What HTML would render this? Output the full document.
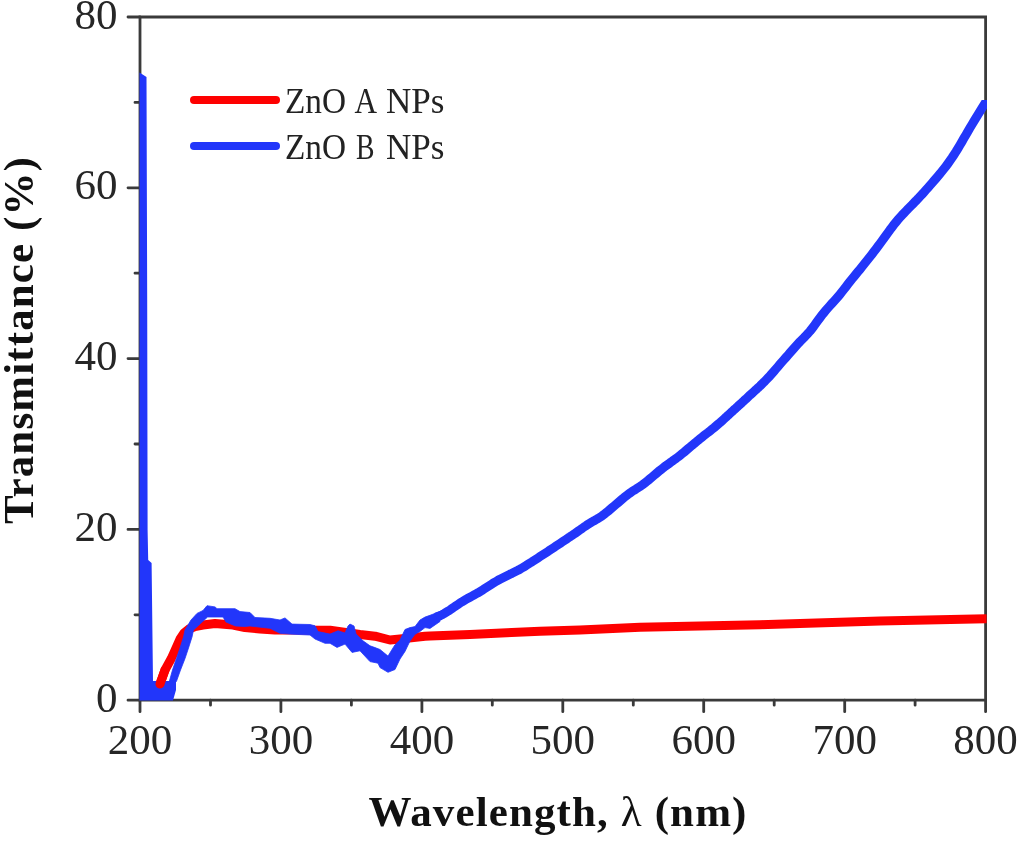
<!DOCTYPE html>
<html><head><meta charset="utf-8"><style>
html,body{margin:0;padding:0;background:#fff;}
svg{display:block;filter:blur(0.45px);}
</style></head><body>
<svg width="1020" height="841" viewBox="0 0 1020 841">
<defs><clipPath id="pa"><rect x="0" y="0" width="986.6" height="701"/></clipPath><clipPath id="pb"><rect x="400" y="100" width="587" height="601"/></clipPath></defs>
<path d="M140.0,17.0 H985.6 V700.2 H140.0 Z" fill="none" stroke="#3a3a3a" stroke-width="2.8"/>
<path d="M140.0,700.2 V711.7 M210.5,700.2 V705.2 M280.9,700.2 V711.7 M351.4,700.2 V705.2 M421.9,700.2 V711.7 M492.3,700.2 V705.2 M562.8,700.2 V711.7 M633.3,700.2 V705.2 M703.7,700.2 V711.7 M774.2,700.2 V705.2 M844.7,700.2 V711.7 M915.1,700.2 V705.2 M985.6,700.2 V711.7 M140.0,700.2 H128.0 M140.0,614.8 H135.0 M140.0,529.4 H128.0 M140.0,444.0 H135.0 M140.0,358.6 H128.0 M140.0,273.2 H135.0 M140.0,187.8 H128.0 M140.0,102.4 H135.0 M140.0,17.0 H128.0" fill="none" stroke="#3a3a3a" stroke-width="2.8" stroke-linecap="round"/>
<polyline points="160.0,684.0 165.0,670.0 171.3,658.5 176.0,648.0 180.0,639.0 184.0,633.0 189.0,629.0 195.0,626.5 203.0,625.0 215.0,623.5 221.0,624.0 233.0,625.0 245.0,627.5 260.0,629.0 275.0,630.0 290.0,630.0 320.0,630.3 330.0,630.3 360.0,634.5 375.0,636.2 390.0,640.0 400.0,639.0 425.0,636.2 430.0,635.9 470.0,634.4 540.0,631.2 580.0,630.0 640.0,627.3 760.0,624.7 880.0,621.0 986.0,618.8" fill="none" stroke="#fe0000" stroke-width="9" stroke-linejoin="round" stroke-linecap="round" clip-path="url(#pa)"/>
<polygon points="139.5,72.5 146.5,77.0 147.2,300.0 147.6,530.0 148.2,560.0 151.6,563.0 153.0,681.0 176.0,681.0 176.0,690.0 173.0,700.5 139.5,700.5" fill="#2236fa"/>
<polygon points="169.3,681.5 172.5,670.0 176.4,658.5 180.0,648.0 183.5,637.0 185.0,630.0 191.0,620.0 197.0,613.4 203.0,610.5 207.0,605.7 215.0,606.9 217.0,608.7 235.0,608.7 240.0,611.6 250.0,612.5 255.0,617.5 270.0,618.3 280.0,620.0 285.0,617.9 292.0,624.1 310.0,624.5 315.0,625.8 318.0,631.6 330.0,634.1 338.0,630.8 345.0,633.0 348.0,626.0 350.0,624.1 354.0,626.0 356.0,634.0 363.0,640.8 370.0,645.8 375.0,647.6 380.0,649.5 388.0,656.1 395.0,644.7 400.0,640.0 405.0,629.5 410.0,627.6 415.0,626.6 420.0,620.0 425.0,617.1 430.0,615.3 440.0,611.5 440.0,621.5 430.0,628.4 425.0,627.6 420.0,631.4 415.0,634.3 410.0,641.0 405.0,651.4 400.0,659.0 395.0,669.5 388.0,672.3 380.0,667.6 378.0,663.2 370.0,661.6 360.0,650.8 352.0,652.4 345.0,644.1 337.0,647.4 330.0,643.3 325.0,643.3 315.0,639.0 310.0,635.0 290.0,634.1 280.0,633.3 270.0,628.3 250.0,626.0 245.0,626.5 235.5,626.0 226.0,622.0 223.0,617.0 207.6,617.0 200.0,624.0 193.5,630.0 192.0,637.0 188.5,648.0 185.0,658.5 180.5,670.0 176.4,681.5" fill="#2236fa" stroke="#2236fa" stroke-width="0.8" stroke-linejoin="round"/>
<polyline points="436.0,617.3 438.0,616.5 440.0,615.7 442.0,614.7 444.0,613.6 446.0,612.4 448.0,611.2 450.0,609.9 452.0,608.5 454.0,607.1 456.0,605.7 458.0,604.4 460.0,603.1 462.0,601.8 464.0,600.6 466.0,599.4 468.0,598.3 470.0,597.2 472.0,596.1 474.0,595.0 476.0,593.9 478.0,592.8 480.0,591.6 482.0,590.4 484.0,589.1 486.0,587.8 488.0,586.5 490.0,585.2 492.0,583.9 494.0,582.7 496.0,581.5 498.0,580.3 500.0,579.2 502.0,578.2 504.0,577.2 506.0,576.2 508.0,575.2 510.0,574.2 512.0,573.3 514.0,572.3 516.0,571.3 518.0,570.3 520.0,569.2 522.0,568.0 524.0,566.8 526.0,565.6 528.0,564.3 530.0,563.0 532.0,561.8 534.0,560.5 536.0,559.2 538.0,557.9 540.0,556.6 542.0,555.3 544.0,554.0 546.0,552.7 548.0,551.4 550.0,550.0 552.0,548.7 554.0,547.4 556.0,546.1 558.0,544.8 560.0,543.5 562.0,542.1 564.0,540.8 566.0,539.5 568.0,538.1 570.0,536.8 572.0,535.4 574.0,534.1 576.0,532.7 578.0,531.3 580.0,529.9 582.0,528.5 584.0,527.0 586.0,525.7 588.0,524.3 590.0,523.1 592.0,521.9 594.0,520.8 596.0,519.6 598.0,518.5 600.0,517.2 602.0,515.9 604.0,514.4 606.0,512.8 608.0,511.2 610.0,509.5 612.0,507.8 614.0,506.1 616.0,504.4 618.0,502.7 620.0,501.0 622.0,499.3 624.0,497.6 626.0,496.0 628.0,494.4 630.0,493.0 632.0,491.6 634.0,490.3 636.0,489.1 638.0,487.8 640.0,486.5 642.0,485.1 644.0,483.6 646.0,482.1 648.0,480.5 650.0,478.8 652.0,477.1 654.0,475.4 656.0,473.7 658.0,472.0 660.0,470.3 662.0,468.8 664.0,467.2 666.0,465.7 668.0,464.3 670.0,462.8 672.0,461.4 674.0,459.9 676.0,458.5 678.0,457.0 680.0,455.4 682.0,453.8 684.0,452.2 686.0,450.5 688.0,448.8 690.0,447.1 692.0,445.4 694.0,443.8 696.0,442.1 698.0,440.4 700.0,438.8 702.0,437.2 704.0,435.6 706.0,434.0 708.0,432.5 710.0,430.9 712.0,429.3 714.0,427.7 716.0,426.0 718.0,424.3 720.0,422.6 722.0,420.8 724.0,419.0 726.0,417.2 728.0,415.3 730.0,413.5 732.0,411.7 734.0,409.8 736.0,408.1 738.0,406.2 740.0,404.4 742.0,402.6 744.0,400.7 746.0,398.9 748.0,397.0 750.0,395.1 752.0,393.3 754.0,391.5 756.0,389.7 758.0,387.8 760.0,386.0 762.0,384.0 764.0,382.1 766.0,380.0 768.0,377.9 770.0,375.8 772.0,373.5 774.0,371.2 776.0,368.9 778.0,366.6 780.0,364.2 782.0,361.9 784.0,359.6 786.0,357.4 788.0,355.1 790.0,352.8 792.0,350.5 794.0,348.2 796.0,346.0 798.0,343.8 800.0,341.6 802.0,339.6 804.0,337.6 806.0,335.5 808.0,333.4 810.0,331.1 812.0,328.6 814.0,326.0 816.0,323.2 818.0,320.4 820.0,317.7 822.0,315.1 824.0,312.6 826.0,310.2 828.0,307.9 830.0,305.6 832.0,303.4 834.0,301.2 836.0,299.0 838.0,296.7 840.0,294.3 842.0,291.8 844.0,289.3 846.0,286.7 848.0,284.1 850.0,281.5 852.0,279.0 854.0,276.6 856.0,274.1 858.0,271.7 860.0,269.3 862.0,266.8 864.0,264.3 866.0,261.8 868.0,259.3 870.0,256.8 872.0,254.2 874.0,251.6 876.0,249.0 878.0,246.3 880.0,243.6 882.0,240.9 884.0,238.1 886.0,235.3 888.0,232.6 890.0,229.8 892.0,227.2 894.0,224.6 896.0,222.1 898.0,219.7 900.0,217.4 902.0,215.2 904.0,213.1 906.0,211.0 908.0,208.9 910.0,206.9 912.0,204.9 914.0,202.8 916.0,200.8 918.0,198.7 920.0,196.5 922.0,194.4 924.0,192.2 926.0,189.9 928.0,187.7 930.0,185.4 932.0,183.1 934.0,180.8 936.0,178.5 938.0,176.1 940.0,173.8 942.0,171.3 944.0,168.8 946.0,166.2 948.0,163.5 950.0,160.7 952.0,157.8 954.0,154.7 956.0,151.6 958.0,148.3 960.0,145.0 962.0,141.6 964.0,138.1 966.0,134.7 968.0,131.2 970.0,127.8 972.0,124.5 974.0,121.2 976.0,117.9 978.0,114.7 980.0,111.4 982.0,108.1 984.0,104.9 986.0,101.6 988.0,98.3 990.0,95.0" fill="none" stroke="#2236fa" stroke-width="9" stroke-linejoin="round" clip-path="url(#pb)"/>
<polyline points="160.0,684.0 165.0,670.0" fill="none" stroke="#fe0000" stroke-width="9" stroke-linecap="round"/>
<g font-family="Liberation Serif" font-size="43" fill="#262626"><text x="140.0" y="754" text-anchor="middle">200</text><text x="280.9" y="754" text-anchor="middle">300</text><text x="421.9" y="754" text-anchor="middle">400</text><text x="562.8" y="754" text-anchor="middle">500</text><text x="703.7" y="754" text-anchor="middle">600</text><text x="844.7" y="754" text-anchor="middle">700</text><text x="985.6" y="754" text-anchor="middle">800</text><text x="117.5" y="711.7" text-anchor="end">0</text><text x="117.5" y="540.9" text-anchor="end">20</text><text x="117.5" y="370.1" text-anchor="end">40</text><text x="117.5" y="199.3" text-anchor="end">60</text><text x="117.5" y="28.5" text-anchor="end">80</text></g>
<text x="558" y="826" text-anchor="middle" font-family="Liberation Serif" font-weight="bold" font-size="43" letter-spacing="1.12" fill="#111">Wavelength, <tspan font-weight="normal">λ</tspan> (nm)</text>
<text transform="translate(33,340) rotate(-90)" text-anchor="middle" font-family="Liberation Serif" font-weight="bold" font-size="43" letter-spacing="1.12" fill="#111">Transmittance (%)</text>
<path d="M194,100 H276" stroke="#fe0000" stroke-width="8" stroke-linecap="round"/>
<path d="M194,146 H276" stroke="#2236fa" stroke-width="8" stroke-linecap="round"/>
<g font-family="Liberation Serif" font-size="35.5" fill="#222"><text x="285" y="112.8" textLength="61" lengthAdjust="spacingAndGlyphs">ZnO</text><text x="354.5" y="112.8" textLength="22.5" lengthAdjust="spacingAndGlyphs">A</text><text x="386" y="112.8" textLength="58.5" lengthAdjust="spacingAndGlyphs">NPs</text><text x="285" y="158.5" textLength="61" lengthAdjust="spacingAndGlyphs">ZnO</text><text x="356" y="158.5" textLength="18.5" lengthAdjust="spacingAndGlyphs">B</text><text x="386" y="158.5" textLength="58.5" lengthAdjust="spacingAndGlyphs">NPs</text></g>
</svg>
</body></html>
